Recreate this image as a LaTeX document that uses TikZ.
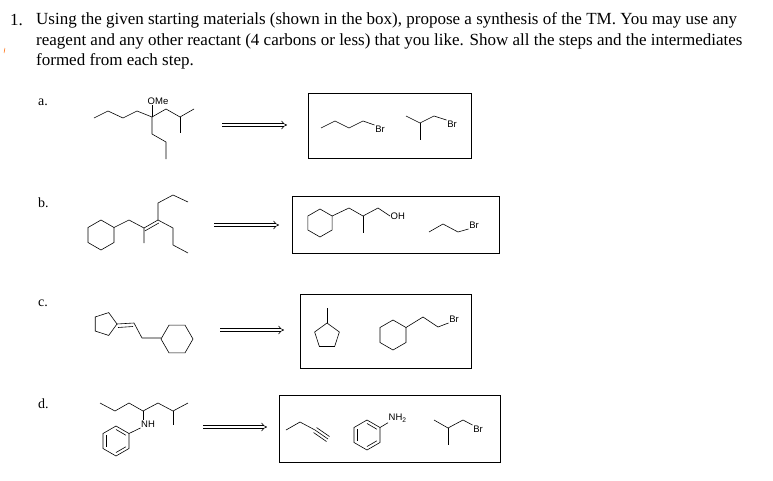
\documentclass[tikz,border=0pt]{standalone}
\usepackage{fontspec}
\setmainfont{Liberation Serif}
\newfontfamily\arial{Liberation Sans}
\usetikzlibrary{arrows.meta,calc}
\newcommand{\ring}[4]{% cx cy r startangle, 6-ring
  \draw[bond] (#1,#2) ++(#4:#3) \foreach \k in {1,...,5}{-- ($(#1,#2)+(#4+60*\k:#3)$)} -- cycle;}
\newcommand{\pent}[4]{%
  \draw[bond] ($(#1,#2)+(#4:#3)$) \foreach \k in {1,...,4}{-- ($(#1,#2)+(#4+72*\k:#3)$)} -- cycle;}
\begin{document}
\begin{tikzpicture}[x=1pt,y=-1pt,
  bond/.style={line width=0.6pt},
  lab/.style={font=\arial\fontsize{9.5}{10}\selectfont, inner sep=0.5pt},
  txt/.style={font=\fontsize{17}{18}\selectfont, anchor=west, inner sep=0pt},
  item/.style={font=\fontsize{14}{15}\selectfont, anchor=west, inner sep=0pt},
  retro/.style={double, double distance=2.4pt, line width=0.6pt, -{Implies}},
  box/.style={draw, line width=0.8pt}]
\useasboundingbox (0,0) rectangle (773,480);
\node[txt] (n1) at (10,20) {1.};
\node[txt] (l1) at (36,20) {Using the given starting materials (shown in the box), propose a synthesis of the TM. You may use any};
\node[txt] (l2) at (36,41) {reagent and any other reactant (4 carbons or less) that you like. Show all the steps and the intermediates};
\node[txt] (l3) at (36,61) {formed from each step.};
\draw[orange!80!red, line width=0.5pt] (5,48) -- (4,53);
\node[item] (la) at (38,102) {a.};
\node[item] (lb) at (38,203) {b.};
\node[item] (lc) at (38,303) {c.};
\node[item] (ld) at (38,404) {d.};
% ---- a
\node[lab] (ome) at (158,101) {OMe};
\draw[bond] (94,118)--(108,111)--(123,118)--(137,111)--(152,117)--(166,109)--(180,117)--(194,109);
\draw[bond] (180,117)--(180,133);
\draw[bond] (152,117)--(152,134)--(166,142)--(166,159);
\draw[bond] (152,117)--(ome.south west -| 152,0);
\draw[retro] (222,125)--(287,125);
\draw[box] (308,93) rectangle (471,158);
\node[lab] (bra1) at (380,129) {Br};
\draw[bond] (321,128)--(335,121)--(349,128)--(363,121)--(bra1.north west);
\node[lab] (bra2) at (452,124) {Br};
\draw[bond] (406,116)--(420,123)--(434,116)--(bra2.north west);
\draw[bond] (420,123)--(420,140);
% ---- b
\ring{101}{235}{15}{30}
\draw[bond] (114,227.5)--(129,220)--(144,228)--(144,243);
\draw[bond] (144,228)--(158,220); \draw[bond] (144.8,231)--(158.8,223);
\draw[bond] (158,220)--(158,203)--(173,195)--(188,202);
\draw[bond] (158,220)--(173,228)--(173,245)--(188,253);
\draw[retro] (214,225)--(279,225);
\draw[box] (292,196) rectangle (499,253);
\ring{320}{223}{14}{30}
\node[lab,anchor=west] (oh) at (390,216) {OH};
\draw[bond] (332.1,216)--(349,208)--(363,216)--(378,208)--(oh.west);
\draw[bond] (363,216)--(363,233);
\node[lab] (brb) at (474,225) {Br};
\draw[bond] (429,232)--(443,224)--(458,232)--(brb.south west);
% ---- c
\pent{105}{324}{12}{0}
\draw[bond] (117,324)--(134,323)--(142,338)--(161,338);
\draw[bond] (118,327.5)--(133,326.5);
\ring{177}{339}{16}{0}
\draw[retro] (220,330)--(284,330);
\draw[box] (300,294) rectangle (471,368);
\pent{327}{336}{13}{-90}
\draw[bond] (327,308)--(327,323);
\ring{393}{335}{15}{30}
\node[lab] (brc) at (454,319) {Br};
\draw[bond] (406,327.5)--(423,317)--(438,327)--(brc.south west);
% ---- d
\node[lab] (nh) at (148,424) {NH};
\draw[bond] (100,403)--(115,411)--(129,403)--(143,411)--(158,403)--(173,411)--(188,403);
\draw[bond] (173,411)--(173,425);
\draw[bond] (143,411)--(nh.north -| 143,0);
\ring{116}{441}{15}{30}
\draw[bond] (129,433.5)--(nh.south west);
\foreach \a in {30,150,270}{\draw[bond] ($(116,441)+(\a:11.5)$)--($(116,441)+(\a+60:11.5)$);}
\draw[retro] (203,427)--(267,427);
\draw[box] (279,395) rectangle (500,462);
\draw[bond] (286,430)--(300,422)--(315,430)--(328,439);
\draw[bond] ($(315,430)+(1.5,-2.5)$)--($(328,439)+(1.5,-2.5)$);
\draw[bond] ($(315,430)+(-1.5,2.5)$)--($(328,439)+(-1.5,2.5)$);
\ring{367}{435}{15}{30}
\foreach \a in {30,150,270}{\draw[bond] ($(367,435)+(\a:11.5)$)--($(367,435)+(\a+60:11.5)$);}
\node[lab,anchor=west] (nh2) at (388,418) {NH\textsubscript{2}};
\draw[bond] (380,427.5)--(nh2.south west);
\node[lab] (brd) at (478,429) {Br};
\draw[bond] (434,420)--(448,428)--(463,420)--(brd.north west);
\draw[bond] (448,428)--(448,445);
\end{tikzpicture}
\end{document}
